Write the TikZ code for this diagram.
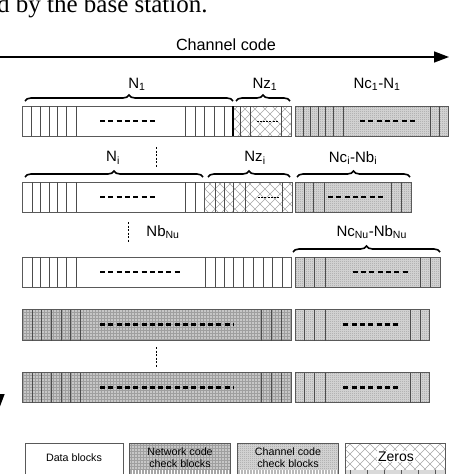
\documentclass[tikz,border=0pt]{standalone}
\usepackage{fontspec}
\setmainfont{Liberation Sans}
\newfontfamily\seriffont{Liberation Serif}
\usetikzlibrary{arrows.meta,decorations.pathreplacing,patterns}

\pgfdeclarepatternformonly{netdots}{\pgfqpoint{0pt}{0pt}}{\pgfqpoint{3pt}{3pt}}{\pgfqpoint{3pt}{3pt}}{\pgfpathrectangle{\pgfqpoint{0.6pt}{0.6pt}}{\pgfqpoint{1.5pt}{1.5pt}}\pgfusepath{fill}}
\pgfdeclarepatternformonly{chkr}{\pgfqpoint{0pt}{0pt}}{\pgfqpoint{2pt}{2pt}}{\pgfqpoint{2pt}{2pt}}{\pgfpathrectangle{\pgfqpoint{0pt}{0pt}}{\pgfqpoint{1pt}{1pt}}\pgfpathrectangle{\pgfqpoint{1pt}{1pt}}{\pgfqpoint{1pt}{1pt}}\pgfusepath{fill}}
\pgfdeclarepatternformonly{zx}{\pgfqpoint{-1pt}{-1pt}}{\pgfqpoint{11pt}{11pt}}{\pgfqpoint{10pt}{10pt}}{\pgfsetlinewidth{0.6pt}\pgfpathmoveto{\pgfqpoint{0pt}{0pt}}\pgfpathlineto{\pgfqpoint{10pt}{10pt}}\pgfpathmoveto{\pgfqpoint{0pt}{10pt}}\pgfpathlineto{\pgfqpoint{10pt}{0pt}}\pgfusepath{stroke}}

\newcommand\vls[3]{\foreach \xx in {#3} {\draw[vl] (\xx,#1) -- (\xx,#2);}}

\tikzset{
  blk/.style={draw=gray!70!black, line width=0.6pt},
  datab/.style={blk, fill=white},
  netb/.style={blk, preaction={fill=gray!75}, pattern=netdots, pattern color=white},
  chanb/.style={blk, preaction={fill=gray!30}, pattern=chkr, pattern color=gray!75},
  zerob/.style={blk, preaction={fill=white}, pattern=zx, pattern color=gray!70},
  vl/.style={draw=gray!60!black, line width=0.6pt},
  bigdash/.style={line width=2.3pt, dash pattern=on 5pt off 3.3pt},
  smalldash/.style={line width=0.9pt, dash pattern=on 2pt off 1.2pt},
  vdots/.style={line width=1.1pt, dash pattern=on 2pt off 1.5pt},
  brc/.style={decorate, decoration={brace, amplitude=6pt}, line width=1.6pt},
  lbl/.style={font=\fontsize{15}{17}\selectfont, inner sep=0pt},
  axis/.style={line width=1.4pt, -{Triangle[length=15pt,width=11pt]}},
  leg/.style={font=\fontsize{10.7}{11.7}\selectfont, align=center, inner sep=0pt}
}

\begin{document}
\begin{tikzpicture}[x=1pt,y=-1pt]
\useasboundingbox (0,0) rectangle (474,474);
\clip (0,0) rectangle (474,474);

% title fragment (cut at the top edge, as in the reference)
\node[anchor=base west, inner sep=0pt, font=\seriffont\fontsize{25}{28}\selectfont] (title) at (-3,12.7) {d by the base station.};

% axes
\coordinate (o) at (-1,57);
\coordinate (xe) at (449,57);
\coordinate (ye) at (-1,409);
\draw[axis] (o) -- (xe);
\draw[axis] (o) -- (ye);
\node[font=\fontsize{16.2}{19}\selectfont, inner sep=0pt] (cc) at (226,45) {Channel code};

% ---------- row 1 ----------
\draw[datab] (22.7,106) rectangle (233,136);
\vls{106}{136}{31.7,40.7,49.3,57.3,66,76,185.7,195,204.7,214.3,224}
\draw[zerob] (233,106) rectangle (291.5,136);
\vls{106}{136}{240,250,281.7}
\draw[line width=1.3pt] (233,106) -- (233,136);
\draw[chanb] (295,106) rectangle (448,136);
\vls{106}{136}{303,310,318,325,333,343,430,439}
\draw[bigdash] (100,121) -- (157,121);
\draw[smalldash] (256.5,121) -- (278,121);
\draw[bigdash] (360,121) -- (418,121);
\draw[brc] (25,101) -- (233,101);
\draw[brc] (236,101) -- (290,101);
\node[lbl] (n1) at (137,84) {N\textsubscript{1}};
\node[lbl] (nz1) at (265,84) {Nz\textsubscript{1}};
\node[lbl] (nc1) at (377,84) {Nc\textsubscript{1}-N\textsubscript{1}};

% ---------- row 2 ----------
\draw[datab] (22.7,182) rectangle (204,212);
\vls{182}{212}{32.3,40.7,49.3,57.3,66.7,76,185.7,195}
\draw[zerob] (204,182) rectangle (292,212);
\vls{182}{212}{215,224,233,245,282.7}
\draw[chanb] (295,182) rectangle (411,212);
\vls{182}{212}{304,313,324,391.7,401.7}
\draw[bigdash] (100,197) -- (157,197);
\draw[smalldash] (258,197) -- (279,197);
\draw[bigdash] (328,197) -- (386,197);
\draw[brc] (25,177) -- (203,177);
\draw[brc] (208,177) -- (290,177);
\draw[brc] (297,177) -- (410,177);
\node[lbl] (ni) at (113,158) {N\textsubscript{i}};
\node[lbl] (nzi) at (255,158) {Nz\textsubscript{i}};
\node[lbl] (nci) at (353,158) {Nc\textsubscript{i}-Nb\textsubscript{i}};
\draw[vdots] (156.7,147) -- (156.7,167);

% ---------- row 3 ----------
\draw[datab] (22.7,257) rectangle (291.7,287);
\vls{257}{287}{32.3,40.7,49.3,57.3,66.7,76,205,215,224,233,243,253,263,272.7,282.7}
\draw[chanb] (295,257) rectangle (440,287);
\vls{257}{287}{304,314,325,420.7,430}
\draw[bigdash] (100,272) -- (182,272);
\draw[bigdash] (352.7,272) -- (410,272);
\draw[brc] (293,252) -- (440,252);
\node[lbl] (nbnu) at (163,232) {Nb\textsubscript{Nu}};
\node[lbl] (ncnu) at (371.7,232) {Nc\textsubscript{Nu}-Nb\textsubscript{Nu}};
\draw[vdots] (128.3,222) -- (128.3,242);

% ---------- row 4 ----------
\draw[netb] (22.7,309.5) rectangle (291,340.5);
\vls{309.5}{340.5}{32.3,41.7,51.7,61.7,70.7,80,261.7,271.7,281.7}
\draw[chanb] (295,309.5) rectangle (429.3,340.5);
\vls{309.5}{340.5}{304,314,325,410.7,420.7}
\draw[bigdash] (100,324.5) -- (234,324.5);
\draw[bigdash] (343.3,324.5) -- (401,324.5);
\draw[vdots] (156.7,347) -- (156.7,368);

% ---------- row 5 ----------
\draw[netb] (22.7,372.7) rectangle (291,402.7);
\vls{372.7}{402.7}{32.3,41.7,51.7,61.7,70.7,80,261.7,271.7,281.7}
\draw[chanb] (295,372.7) rectangle (429.3,402.7);
\vls{372.7}{402.7}{304,314,325,410.7,420.7}
\draw[bigdash] (100,387.5) -- (234,387.5);
\draw[bigdash] (343.3,387.5) -- (401,387.5);

% ---------- legend ----------
\draw[datab] (25,443.5) rectangle (123.3,480);
\draw[netb] (129.3,443.5) rectangle (230.7,480);
\draw[chanb] (237.7,443.5) rectangle (338.3,480);
\draw[zerob] (345.7,443.5) rectangle (445,480);
\fill[gray!70] (129.8,470) rectangle (230.2,480);
\fill[gray!55] (238.2,470) rectangle (337.8,480);
\fill[gray!30] (346.2,470) rectangle (444.5,480);
\foreach \xx in {132,135,...,229} {\draw[white, line width=0.6pt] (\xx,470) -- (\xx,480);}
\foreach \xx in {240,243,...,337} {\draw[white, line width=0.6pt] (\xx,470) -- (\xx,480);}
\foreach \xx in {350,367,...,444} {\draw[gray!70!black, line width=0.5pt] (\xx,470) -- (\xx,480);}
\node[leg] (lgd) at (74,457.5) {Data blocks};
\node[leg] (lgn) at (180,457.5) {Network code\\check blocks};
\node[leg] (lgc) at (288,457.5) {Channel code\\check blocks};
\node[leg, font=\fontsize{14}{16}\selectfont, fill=white, inner sep=1pt] (lgz) at (396,456.5) {Zeros};
\end{tikzpicture}
\end{document}
